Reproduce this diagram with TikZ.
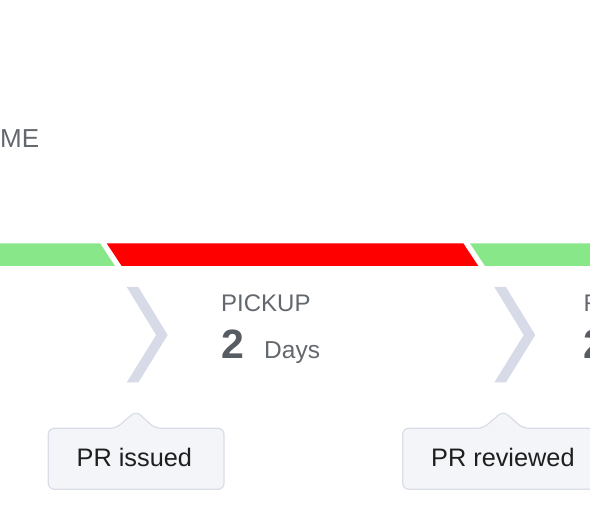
\documentclass[tikz,border=0pt]{standalone}
\usepackage{fontspec}
\setmainfont{Liberation Sans}
\definecolor{barGreen}{HTML}{88E788}
\definecolor{barRed}{HTML}{FF0000}
\definecolor{chevGrey}{HTML}{D6DBE7}
\definecolor{labelGrey}{HTML}{63676E}
\definecolor{numGrey}{HTML}{575B62}
\definecolor{tipFill}{HTML}{F4F5F9}
\definecolor{tipLine}{HTML}{D9DDE7}
\definecolor{tipText}{HTML}{1E1E1E}

\begin{document}
\begin{tikzpicture}[x=1pt,y=-1pt,
    stagelabel/.style={anchor=base west,inner sep=0,text=labelGrey,font=\fontsize{24}{28}\selectfont},
    stagenum/.style={anchor=base west,inner sep=0,text=numGrey,font=\bfseries\fontsize{41}{46}\selectfont},
    stageunit/.style={anchor=base west,inner sep=0,text=labelGrey,font=\fontsize{24.5}{30}\selectfont},
    tiptext/.style={anchor=base west,inner sep=0,text=tipText,font=\fontsize{25.3}{30}\selectfont},
    tipbox/.style={fill=tipFill,draw=tipLine,line width=1.2pt,rounded corners=6pt}]
    \useasboundingbox (0,0) rectangle (590,518);
    \clip (0,0) rectangle (590,518);
    % heading (cut at the left edge)
    \node (title) [stagelabel,font=\fontsize{26}{30}\selectfont] at (0,147.3) {ME};
    % time bars
    \fill[barGreen] (-5,243.3) -- (100,243.3) -- (115,266) -- (-5,266) -- cycle;
    \fill[barRed] (106.7,243.3) -- (463.3,243.3) -- (478.3,266) -- (121.7,266) -- cycle;
    \fill[barGreen] (470,243.3) -- (595,243.3) -- (595,266) -- (485,266) -- cycle;
    % chevrons
    \fill[chevGrey] (126.7,287) -- (138.3,287) -- (167.7,335) -- (138.3,382.5) -- (126.7,382.5) -- (156.1,335) -- cycle;
    \fill[chevGrey] (494.3,287) -- (505.9,287) -- (535.3,335) -- (505.9,382.5) -- (494.3,382.5) -- (523.7,335) -- cycle;
    % stage pickup
    \node (pickup) [stagelabel] at (221,311.7) {PICKUP};
    \node (pickupnum) [stagenum] at (221,358.3) {2};
    \node (pickupunit) [stageunit] at (264,358.3) {Days};
    % next stage (cut at the right edge)
    \node (review) [stagelabel] at (583.5,311.7) {REVIEW};
    \node (reviewnum) [stagenum] at (583.5,358.3) {2};
    % callouts
    \draw[tipbox] (48.3,428.3) -- (116,428.3) -- (136,411) -- (155,428.3) -- (224,428.3)
        -- (224,489.3) -- (48.3,489.3) -- cycle;
    \node (issued) [tiptext] at (76.5,466.7) {PR issued};
    \draw[tipbox] (402.7,428.3) -- (483,428.3) -- (503.3,411) -- (523,428.3) -- (620,428.3)
        -- (620,489.3) -- (402.7,489.3) -- cycle;
    \node (reviewed) [tiptext] at (431,466.7) {PR reviewed};
\end{tikzpicture}
\end{document}
